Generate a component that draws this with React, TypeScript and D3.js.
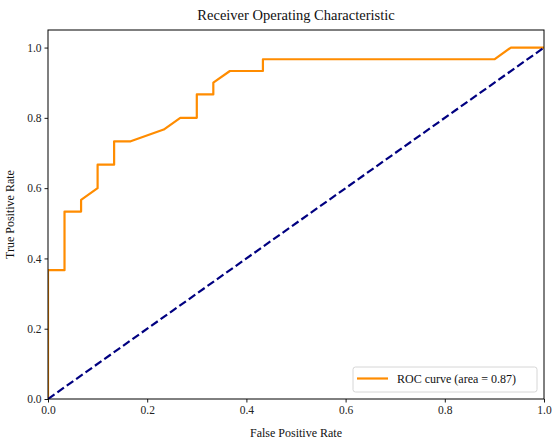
import { useEffect, useRef } from 'react';
import * as d3 from 'd3';

// ROC curve points (fpr, tpr)
const fpr = [0, 0, 0.0333, 0.0333, 0.0667, 0.0667, 0.1, 0.1, 0.1333, 0.1333, 0.1667, 0.2333, 0.2667, 0.3, 0.3, 0.3333, 0.3333, 0.3667, 0.4333, 0.4333, 0.9, 0.9333, 1];
const tpr = [0, 0.3667, 0.3667, 0.5333, 0.5333, 0.5667, 0.6, 0.6667, 0.6667, 0.7333, 0.7333, 0.7667, 0.8, 0.8, 0.8667, 0.8667, 0.9, 0.9333, 0.9333, 0.9667, 0.9667, 1, 1];
const chance = [0, 1];
const xTicks = [0, 0.2, 0.4, 0.6, 0.8, 1.0];
const yTicks = [0, 0.2, 0.4, 0.6, 0.8, 1.0];
const rocLabel = 'ROC curve (area = 0.87)';

const FONT = '"Liberation Serif", "DejaVu Serif", serif';

export default function App() {
  const svgRef = useRef<SVGSVGElement>(null);

  useEffect(() => {
    if (!svgRef.current) return;
    const svg = d3.select(svgRef.current);
    svg.selectAll('*').remove();

    const W = 554, H = 443;
    const margin = { top: 30, right: 10, bottom: 44, left: 48 };
    const width = W - margin.left - margin.right;
    const height = H - margin.top - margin.bottom;

    svg.attr('width', W).attr('height', H);
    svg.append('rect').attr('width', W).attr('height', H).attr('fill', '#fff');

    svg.append('defs').append('clipPath').attr('id', 'plot-clip')
      .append('rect').attr('width', width).attr('height', height);

    const g = svg.append('g').attr('transform', `translate(${margin.left},${margin.top})`);

    const x = d3.scaleLinear().domain([0, 1]).range([0, width]);
    const y = d3.scaleLinear().domain([0, 1.05]).range([height, 0]);

    // ── Lines ─────────────────────────────────────────────
    const pts = fpr.map((f, i) => [f, tpr[i]] as [number, number]);
    const line = d3.line<[number, number]>().x(d => x(d[0])).y(d => y(d[1]));
    const plot = g.append('g').attr('clip-path', 'url(#plot-clip)');

    plot.append('path')
      .datum(pts)
      .attr('fill', 'none')
      .attr('stroke', '#ff8c00')
      .attr('stroke-width', 2.2)
      .attr('stroke-linejoin', 'round')
      .attr('d', line);

    plot.append('path')
      .datum(chance.map(v => [v, v] as [number, number]))
      .attr('fill', 'none')
      .attr('stroke', '#000080')
      .attr('stroke-width', 2.2)
      .attr('stroke-dasharray', '8,3.5')
      .attr('d', line);

    // ── Axes ──────────────────────────────────────────────
    g.append('g')
      .attr('transform', `translate(0,${height})`)
      .attr('font-family', FONT)
      .call(d3.axisBottom(x).tickValues(xTicks).tickFormat(d3.format('.1f')).tickSize(3.5).tickPadding(3))
      .attr('font-family', FONT)
      .call(a => a.select('.domain').remove())
      .call(a => a.selectAll('line').attr('stroke', '#000').attr('stroke-width', 0.9))
      .call(a => a.selectAll('text').attr('fill', '#222').attr('font-size', '11.5px').style('font-family', FONT));

    g.append('g')
      .call(d3.axisLeft(y).tickValues(yTicks).tickFormat(d3.format('.1f')).tickSize(3.5).tickPadding(3))
      .attr('font-family', FONT)
      .call(a => a.select('.domain').remove())
      .call(a => a.selectAll('line').attr('stroke', '#000').attr('stroke-width', 0.9))
      .call(a => a.selectAll('text').attr('fill', '#222').attr('font-size', '11.5px').style('font-family', FONT));

    // frame
    g.append('rect')
      .attr('width', width).attr('height', height)
      .attr('fill', 'none').attr('stroke', '#000').attr('stroke-width', 1);

    // ── Labels ────────────────────────────────────────────
    svg.append('text')
      .attr('x', margin.left + width / 2).attr('y', 20)
      .attr('text-anchor', 'middle')
      .attr('font-family', FONT).attr('font-size', '14.5px').attr('fill', '#111')
      .text('Receiver Operating Characteristic');

    svg.append('text')
      .attr('x', margin.left + width / 2).attr('y', 437)
      .attr('text-anchor', 'middle')
      .attr('font-family', FONT).attr('font-size', '12px').attr('fill', '#111')
      .text('False Positive Rate');

    svg.append('text')
      .attr('transform', `translate(14,${margin.top + height / 2}) rotate(-90)`)
      .attr('text-anchor', 'middle')
      .attr('font-family', FONT).attr('font-size', '12px').attr('fill', '#111')
      .text('True Positive Rate');

    // ── Legend ────────────────────────────────────────────
    const leg = g.append('g').attr('transform', `translate(${width - 191},${height - 32})`);
    leg.append('rect')
      .attr('width', 184).attr('height', 25).attr('rx', 2.5)
      .attr('fill', '#fff').attr('fill-opacity', 0.8)
      .attr('stroke', '#d6d6d6').attr('stroke-width', 1);
    leg.append('line')
      .attr('x1', 4).attr('x2', 35).attr('y1', 11.5).attr('y2', 11.5)
      .attr('stroke', '#ff8c00').attr('stroke-width', 2.2);
    leg.append('text')
      .attr('x', 44).attr('y', 16)
      .attr('font-family', FONT).attr('font-size', '12px').attr('fill', '#111')
      .text(rocLabel);
  }, []);

  return (
    <div style={{ position: 'absolute', left: 0, top: 0, width: 554, height: 443 }}>
      <svg ref={svgRef} style={{ display: 'block' }} />
    </div>
  );
}
